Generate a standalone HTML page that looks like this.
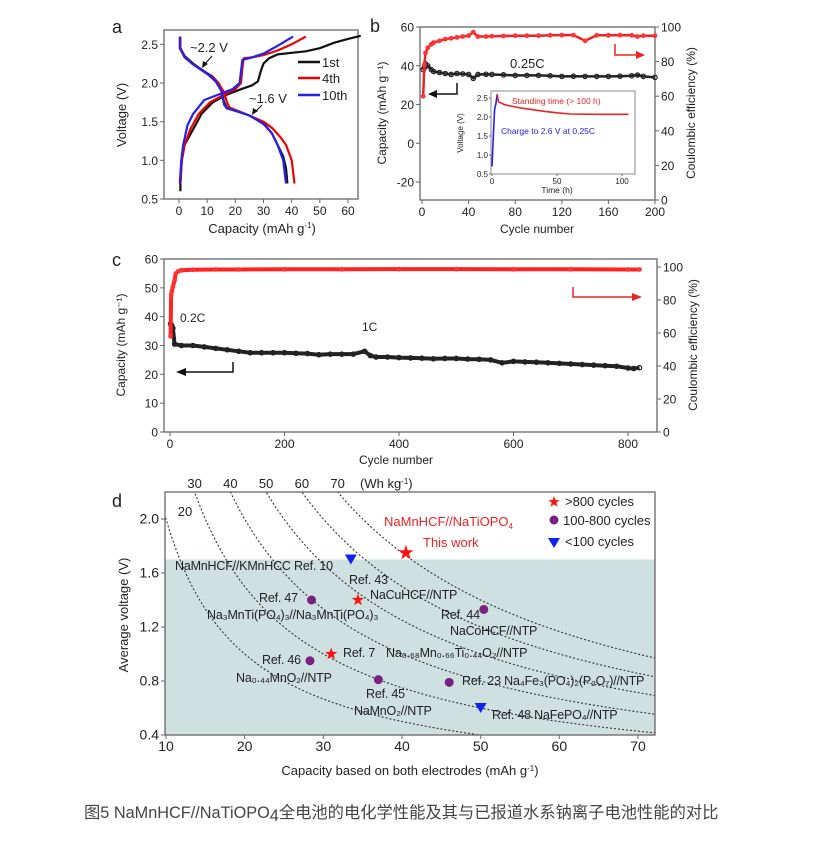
<!DOCTYPE html>
<html><head><meta charset="utf-8"><style>
body{margin:0;background:#fff;}
svg{display:block;font-family:"Liberation Sans","Noto Sans CJK SC",sans-serif;}
</style></head><body>
<svg id="fig" width="817" height="846" viewBox="0 0 817 846" xmlns="http://www.w3.org/2000/svg"></svg>
<script>
// ---- Panel a data ----
const aCap1c=[0.5,0.5,1,2,5,8,12,17,22,26,28,29,30,32,35,40,45,50,55,60,64.5];
const aV1c=[0.6,0.7,1.0,1.2,1.4,1.6,1.75,1.85,1.92,1.97,2.02,2.15,2.25,2.32,2.37,2.39,2.41,2.45,2.52,2.57,2.61];
const aCap1d=[0.5,0.5,2,5,9,12,14,15,16,17,20,25,30,33,35,37,38,38.5];
const aV1d=[2.6,2.45,2.35,2.25,2.15,2.08,2.0,1.9,1.75,1.68,1.64,1.58,1.48,1.35,1.2,1.05,0.9,0.7];
const aCap4c=[0.5,1,2,4,7,11,16,20,22,22.5,23,26,30,35,40,45];
const aV4c=[0.7,1.0,1.2,1.4,1.6,1.75,1.85,1.92,2.0,2.2,2.32,2.33,2.36,2.42,2.5,2.6];
const aCap4d=[0.5,0.5,2,5,9,12,14,16,17,18,25,30,33,36,38,40,41];
const aV4d=[2.6,2.45,2.34,2.24,2.14,2.07,2.0,1.88,1.75,1.68,1.58,1.5,1.42,1.3,1.2,1.0,0.7];
const aCap10c=[0.3,0.8,1.5,3,5,9,14,19,21.5,22.5,25,30,35,40.5];
const aV10c=[0.7,1.0,1.2,1.45,1.6,1.78,1.85,1.92,2.0,2.3,2.32,2.38,2.48,2.6];
const aCap10d=[0.3,0.3,2,5,10,13,15,16,17,21,25,30,33,35,37,38];
const aV10d=[2.6,2.45,2.33,2.24,2.12,2.02,1.9,1.72,1.67,1.63,1.58,1.47,1.35,1.2,1.0,0.7];
const aXTicks=[0,10,20,30,40,50,60];
const aYTicks=[0.5,1.0,1.5,2.0,2.5];
// ---- Panel b data ----
const bCycles=[1,2,3,5,8,10,15,20,25,30,35,40,44,48,55,60,70,80,90,100,110,120,130,140,150,160,170,180,185,190,200];
const bCap=[38,39,41,40,38,37,36.5,36,35.5,36,35.8,35.5,33.5,35.5,35.6,35.5,35.3,35,35,35,34.8,34.5,34.6,34.5,34.5,34.5,34.6,34.8,35.2,34.5,34];
const bCE=[60,78,85,88,90,91,92,93,93.5,94,94.5,95,97,94.5,94.5,94.7,94.8,95,95,95,95.2,95.3,95.3,92,95.2,95.2,95.3,95.2,94.5,95,95];
const bXTicks=[0,40,80,120,160,200];
const bYTicks=[-20,0,20,40,60];
const bY2Ticks=[0,20,40,60,80,100];
const insTimeB=[0,1,2,3,4];
const insVB=[0.7,1.5,2.2,2.35,2.6];
const insTimeR=[4,5,10,20,30,40,50,60,80,105];
const insVR=[2.6,2.4,2.32,2.25,2.2,2.15,2.11,2.08,2.07,2.07];
// ---- Panel c data ----
const cCycles=[1,3,5,8,20,40,60,80,100,120,140,160,180,200,220,240,260,280,300,320,340,350,360,380,400,420,440,460,480,500,520,540,560,580,600,620,640,660,680,700,720,740,760,780,800,810,820];
const cCap=[37.5,37,36,30.5,30,30,29.5,29,28.5,28,27.5,27.5,27.5,27.5,27.3,27.2,26.8,27,27,27,28,26.5,26,26,25.8,25.7,25.6,25.4,25.5,25.5,25.3,25.2,25,24,24.5,24.3,24.2,24,23.8,23.6,23.4,23.2,23,22.8,22.2,22,22.3];
const cCECycles=[1,2,3,5,8,10,15,20,40,80,120,200,300,400,500,600,700,800,820];
const cCE=[58,83,85,88,92,96,97.5,98,98.3,98.5,98.5,98.6,98.6,98.7,98.7,98.6,98.6,98.5,98.5];
const cXTicks=[0,200,400,600,800];
const cYTicks=[0,10,20,30,40,50,60];
const cY2Ticks=[0,20,40,60,80,100];
// ---- Panel d data ----
const dEnergy=[20,30,40,50,60,70];
const dStarC=[40.5,34.4,31];
const dStarV=[1.75,1.40,1.0];
const dCircC=[28.5,50.4,28.3,37,46];
const dCircV=[1.40,1.33,0.95,0.81,0.79];
const dTriC=[33.5,50];
const dTriV=[1.70,0.60];
const dXTicks=[10,20,30,40,50,60,70];
const dYTicks=[0.4,0.8,1.2,1.6,2.0];

const NS="http://www.w3.org/2000/svg";
const svg=document.getElementById('fig');
function el(tag,attrs,parent,txt){const e=document.createElementNS(NS,tag);for(const k in attrs)e.setAttribute(k,attrs[k]);if(txt!==undefined)e.textContent=txt;(parent||svg).appendChild(e);return e;}
function lin(d0,d1,p0,p1){return v=>p0+(v-d0)*(p1-p0)/(d1-d0);}
function poly(xs,ys,fx,fy){return xs.map((x,i)=>fx(x).toFixed(1)+','+fy(ys[i]).toFixed(1)).join(' ');}
function text(x,y,s,opts,name){const t=el('text',Object.assign({x:x,y:y,'font-size':13,fill:'#222'},opts||{}),svg,s);return t;}
function rotText(x,y,s,name,size){const t=el('text',{x:0,y:0,'font-size':size||12,fill:'#222','text-anchor':'middle',transform:`translate(${x},${y}) rotate(-90)`},svg,s);return t;}
function box(x0,y0,x1,y1,name){const r=el('rect',{x:x0,y:y0,width:x1-x0,height:y1-y0,fill:'none',stroke:'#666','stroke-width':1.3});}
function xTicks(ticks,fx,yb,name,size){ticks.forEach(t=>{el('line',{x1:fx(t),x2:fx(t),y1:yb,y2:yb+4,stroke:'#666'});text(fx(t),yb+16,String(t),{'text-anchor':'middle','font-size':size||12},name);});}
function yTicks(ticks,fy,xl,name,fmt,size){ticks.forEach(t=>{el('line',{x1:xl,x2:xl-4,y1:fy(t),y2:fy(t),stroke:'#666'});text(xl-6,fy(t)+4.5,fmt?fmt(t):String(t),{'text-anchor':'end','font-size':size||12},name);});}
function y2Ticks(ticks,fy,xr,name){ticks.forEach(t=>{el('line',{x1:xr,x2:xr+4,y1:fy(t),y2:fy(t),stroke:'#666'});text(xr+6,fy(t)+4.5,String(t),{'font-size':12},name);});}

// ===== Panel a =====
{
 const fx=lin(0,60,179,348), fy=lin(0.5,2.5,199,44.3);
 text(112,33,'a',{'font-size':18},'panel-a-label');
 box(164,30,358,199,'panel-a-plot-area');
 xTicks(aXTicks,fx,199,'a-x-tick');
 yTicks(aYTicks,fy,164,'a-y-tick',v=>v.toFixed(1));
 const series=[[aCap1c,aV1c,'#111','1st-charge'],[aCap1d,aV1d,'#111','1st-discharge'],[aCap4c,aV4c,'#e00','4th-charge'],[aCap4d,aV4d,'#e00','4th-discharge'],[aCap10c,aV10c,'#22e','10th-charge'],[aCap10d,aV10d,'#22e','10th-discharge']];
 series.forEach(s=>{const p=el('polyline',{points:poly(s[0],s[1],fx,fy),fill:'none',stroke:s[2],'stroke-width':2.2,'stroke-linejoin':'round'});});
 [['1st','#111',62],['4th','#e00',78],['10th','#22e',95]].forEach(l=>{const ln=el('line',{x1:298,x2:320,y1:l[2],y2:l[2],stroke:l[1],'stroke-width':2.5});text(322,l[2]+5,l[0],{'font-size':13},'legend-entry-'+l[0]);});
 text(190,52,'~2.2 V',{'font-size':13},'annotation-2-2v');
 el('line',{x1:212,x2:204,y1:56,y2:65,stroke:'#111','stroke-width':1});el('polygon',{points:'202,68 203,61 208,64',fill:'#111'});
 text(249,103,'~1.6 V',{'font-size':13},'annotation-1-6v');
 el('line',{x1:262,x2:255,y1:105,y2:112,stroke:'#111','stroke-width':1});el('polygon',{points:'252,115 253,108 258,111',fill:'#111'});
 rotText(126,115,'Voltage (V)','a-y-axis-title',13);
 const xt=text(262,233,'Capacity (mAh g',{'text-anchor':'middle','font-size':13},'a-x-axis-title');
 el('tspan',{dy:-5,'font-size':8},xt,'-1');el('tspan',{dy:5},xt,')');
}
// ===== Panel b =====
{
 const fx=lin(0,200,422,655), fy=lin(-20,60,182,27), fy2=lin(0,100,200,27);
 text(370,32,'b',{'font-size':18},'panel-b-label');
 box(420,27,655,200,'panel-b-plot-area');
 xTicks(bXTicks,fx,200,'b-x-tick');
 yTicks(bYTicks,fy,420,'b-y-tick');
 y2Ticks(bY2Ticks,fy2,655,'b-y2-tick');
 el('line',{x1:fx(1),x2:fx(3),y1:fy(24),y2:fy(41),stroke:'#88f','stroke-width':1});
 const cl=el('polyline',{points:poly(bCycles,bCap,fx,fy),fill:'none',stroke:'#222','stroke-width':2.5});
 bCycles.forEach((c,i)=>{const m=el('circle',{cx:fx(c),cy:fy(bCap[i]),r:2.2,fill:'none',stroke:'#222','stroke-width':1.2});});
 const rl=el('polyline',{points:poly(bCycles,bCE,fx,fy2),fill:'none',stroke:'#e22','stroke-width':2.5});
 bCycles.forEach((c,i)=>{const m=el('circle',{cx:fx(c),cy:fy2(bCE[i]),r:2.4,fill:'#f33'});});
 text(510,68,'0.25C',{'font-size':13},'b-rate-label');
 el('polyline',{points:'457,83 457,94 432,94',fill:'none',stroke:'#111','stroke-width':1.5});el('polygon',{points:'428,94 437,90 437,98',fill:'#111'});
 el('polyline',{points:'615,44 615,55 640,55',fill:'none',stroke:'#e22','stroke-width':1.5});el('polygon',{points:'645,55 636,51 636,59',fill:'#e22'});
 // inset
 const ix=lin(0,100,492,622), iy=lin(0.5,2.5,174,98);
 const ib=el('rect',{x:491,y:91,width:144,height:83,fill:'#fff',stroke:'#888','stroke-width':1});
 [0,50,100].forEach(t=>{el('line',{x1:ix(t),x2:ix(t),y1:174,y2:176,stroke:'#666'});text(ix(t),184,String(t),{'text-anchor':'middle','font-size':8},'inset-x-tick');});
 [0.5,1.0,1.5,2.0,2.5].forEach(t=>{el('line',{x1:491,x2:489,y1:iy(t),y2:iy(t),stroke:'#666'});text(488,iy(t)+3,t.toFixed(1),{'text-anchor':'end','font-size':8},'inset-y-tick');});
 const p1=el('polyline',{points:poly(insTimeB,insVB,ix,iy),fill:'none',stroke:'#22e','stroke-width':1.6});
 const p2=el('polyline',{points:poly(insTimeR,insVR,ix,iy),fill:'none',stroke:'#e22','stroke-width':1.6});
 text(512,104,'Standing time (> 100 h)',{'font-size':8.5,fill:'#e22'},'inset-standing-label');
 text(501,134,'Charge to 2.6 V at 0.25C',{'font-size':8.5,fill:'#22e'},'inset-charge-label');
 text(557,193,'Time (h)',{'text-anchor':'middle','font-size':8.5},'inset-x-title');
 rotText(463,133,'Voltage (V)','inset-y-title',8);
 rotText(386,113,'Capacity (mAh g⁻¹)','b-y-axis-title',12);
 rotText(695,113,'Coulombic efficiency (%)','b-y2-axis-title',12);
 text(537,233,'Cycle number',{'text-anchor':'middle','font-size':12},'b-x-axis-title');
}
// ===== Panel c =====
{
 const fx=lin(0,800,170,628), fy=lin(0,60,432,259), fy2=lin(0,100,432,267);
 text(112,266,'c',{'font-size':18},'panel-c-label');
 box(164,259,657,432,'panel-c-plot-area');
 xTicks(cXTicks,fx,432,'c-x-tick');
 yTicks(cYTicks,fy,164,'c-y-tick');
 y2Ticks(cY2Ticks,fy2,657,'c-y2-tick');
 el('line',{x1:fx(1),x2:fx(2),y1:fy(33),y2:fy(47),stroke:'#99f','stroke-width':1});
 const cl=el('polyline',{points:poly(cCycles,cCap,fx,fy),fill:'none',stroke:'#222','stroke-width':4});
 cCycles.forEach((c,i)=>{const m=el('circle',{cx:fx(c),cy:fy(cCap[i]),r:2.2,fill:'none',stroke:'#222','stroke-width':1.2});});
 const rl=el('polyline',{points:poly(cCECycles,cCE,fx,fy2),fill:'none',stroke:'#f22','stroke-width':4});
 cCECycles.forEach((c,i)=>{const m=el('circle',{cx:fx(c),cy:fy2(cCE[i]),r:2.4,fill:'#f33'});});
 text(180,322,'0.2C',{'font-size':12},'c-rate-0-2c');
 text(362,331,'1C',{'font-size':12},'c-rate-1c');
 el('polyline',{points:'233,362 233,372 182,372',fill:'none',stroke:'#111','stroke-width':1.5});el('polygon',{points:'176,372 186,368 186,376',fill:'#111'});
 el('polyline',{points:'573,287 573,297 632,297',fill:'none',stroke:'#e22','stroke-width':1.5});el('polygon',{points:'642,297 632,293 632,301',fill:'#e22'});
 rotText(125,345,'Capacity (mAh g⁻¹)','c-y-axis-title',12);
 rotText(697,345,'Coulombic efficiency (%)','c-y2-axis-title',12);
 text(396,464,'Cycle number',{'text-anchor':'middle','font-size':12},'c-x-axis-title');
}
// ===== Panel d =====
{
 const fx=lin(10,70,166,638), fy=lin(0.4,2.0,735,519);
 text(112,507,'d',{'font-size':18},'panel-d-label');
 const sh=el('rect',{x:165,y:fy(1.7),width:490,height:735-fy(1.7),fill:'#cfe0e0'});
 const clip=el('clipPath',{id:'dclip'});el('rect',{x:165,y:492,width:490,height:243},clip);
 dEnergy.forEach(E=>{const pts=[];for(let c=8;c<=73;c+=0.5){pts.push(fx(c).toFixed(1)+','+fy(E/c).toFixed(1));}
  const p=el('polyline',{points:pts.join(' '),fill:'none',stroke:'#333','stroke-width':1.1,'stroke-dasharray':'2,2','clip-path':'url(#dclip)'});
  const lx=E===20?185:fx(E/2.2);text(lx,E===20?516:488,String(E),{'text-anchor':'middle','font-size':13},'iso-energy-label');});
 const u=text(360,488,'(Wh kg',{'font-size':13},'energy-unit');
 el('tspan',{dy:-4,'font-size':8},u,'-1');el('tspan',{dy:4},u,')');
 box(165,492,655,735,'panel-d-plot-area');
 xTicks(dXTicks,fx,735,'d-x-tick',14);
 yTicks(dYTicks,fy,165,'d-y-tick',v=>v.toFixed(1),14);
 function star(cx,cy,r){let s='';for(let i=0;i<10;i++){const a=-Math.PI/2+i*Math.PI/5,rr=i%2?r*0.4:r;s+=(cx+rr*Math.cos(a)).toFixed(1)+','+(cy+rr*Math.sin(a)).toFixed(1)+' ';}return s;}
 dStarC.forEach((c,i)=>{const m=el('polygon',{points:star(fx(c),fy(dStarV[i]),i===0?8:6.5),fill:'#f11'});});
 dCircC.forEach((c,i)=>{const m=el('circle',{cx:fx(c),cy:fy(dCircV[i]),r:4.5,fill:'#7a2080'});});
 dTriC.forEach((c,i)=>{const x=fx(c),y=fy(dTriV[i]);const m=el('polygon',{points:`${x-6},${y-5} ${x+6},${y-5} ${x},${y+5}`,fill:'#12e'});});
 // legend
 el('polygon',{points:star(554,502,6),fill:'#f11'});text(565,506,'>800 cycles',{'font-size':13},'legend-800-cycles');
 el('circle',{cx:554,cy:520,r:4.5,fill:'#7a2080'});text(563,525,'100-800 cycles',{'font-size':13},'legend-100-800-cycles');
 el('polygon',{points:'548,538 560,538 554,548',fill:'#12e'});text(565,546,'<100 cycles',{'font-size':13},'legend-100-cycles');
 text(384,526,'NaMnHCF//NaTiOPO',{'font-size':13,fill:'#e22'},'this-work-name');el('tspan',{dy:3,'font-size':8},svg.lastChild,'4');
 text(423,547,'This work',{'font-size':13,fill:'#e22'},'this-work-label');
 const f={'font-size':12.5,'letter-spacing':-0.2};
 text(175,570,'NaMnHCF//KMnHCC Ref. 10',f,'label-ref10');
 text(349,584,'Ref. 43',f,'label-ref43');
 text(370,599,'NaCuHCF//NTP',f,'label-ref43-name');
 text(259,602,'Ref. 47',f,'label-ref47');
 text(207,619,'Na₃MnTi(PO₄)₃//Na₃MnTi(PO₄)₃',f,'label-ref47-name');
 text(441,619,'Ref. 44',f,'label-ref44');
 text(450,635,'NaCoHCF//NTP',f,'label-ref44-name');
 text(343,657,'Ref. 7',f,'label-ref7');
 text(386,657,'Na₀.₆₈Mn₀.₆₆Ti₀.₄₄O₂//NTP',f,'label-ref7-name');
 text(262,664,'Ref. 46',f,'label-ref46');
 text(236,682,'Na₀.₄₄MnO₂//NTP',f,'label-ref46-name');
 text(366,698,'Ref. 45',f,'label-ref45');
 text(354,715,'NaMnO₂//NTP',f,'label-ref45-name');
 text(462,685,'Ref. 23 Na₄Fe₃(PO₄)₂(P₂O₇)//NTP',f,'label-ref23');
 text(492,719,'Ref. 48 NaFePO₄//NTP',f,'label-ref48');
 rotText(128,615,'Average voltage (V)','d-y-axis-title',13);
 const xt=text(410,775,'Capacity based on both electrodes (mAh g',{'text-anchor':'middle','font-size':13},'d-x-axis-title');
 el('tspan',{dy:-4,'font-size':8},xt,'-1');el('tspan',{dy:4},xt,')');
}
// caption
{const c=text(84,818,'图5 NaMnHCF//NaTiOPO',{'font-size':16.3,fill:'#444'},'figure-caption');
 el('tspan',{dy:3,'font-size':16.3},c,'4');el('tspan',{dy:-3},c,'全电池的电化学性能及其与已报道水系钠离子电池性能的对比');}
</script>
</body></html>
